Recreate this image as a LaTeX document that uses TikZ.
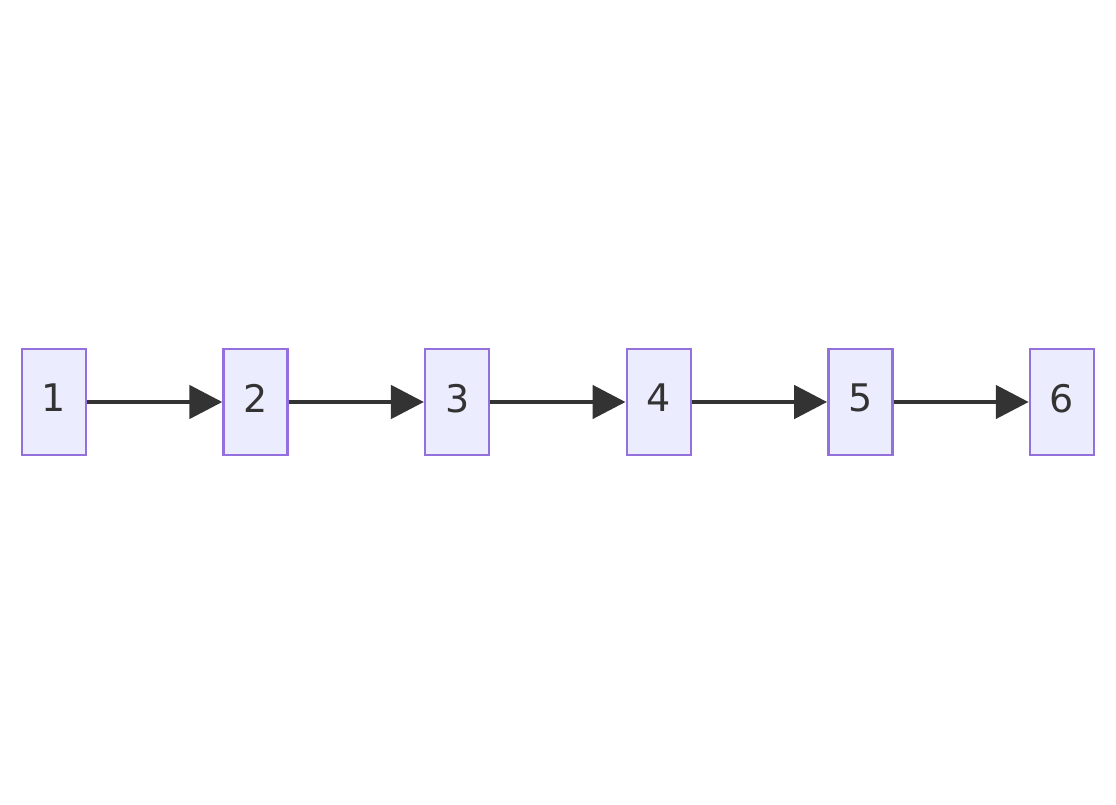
\documentclass[tikz,border=0pt]{standalone}
\usepackage{fontspec}
\setmainfont{DejaVu Sans}
\usetikzlibrary{arrows.meta}
\definecolor{boxfill}{HTML}{ECECFF}
\definecolor{boxline}{HTML}{9370DB}
\definecolor{ink}{HTML}{333333}
\begin{document}
\begin{tikzpicture}[x=1pt,y=-1pt,
  box/.style={draw=boxline,fill=boxfill,line width=2.5pt,minimum width=64pt,minimum height=106pt,inner sep=0pt,text=ink,font=\fontsize{38}{42}\selectfont},
  link/.style={draw=ink,line width=4.8pt,-{Triangle[length=33pt,width=33pt]}}]
\useasboundingbox (0,0) rectangle (1116,805);
\foreach \i in {1,...,6}{
  \node[box] (n\i) at ({54+201.6*(\i-1)},402) {\raisebox{8pt}{\i}};
}
\foreach \i/\j in {1/2,2/3,3/4,4/5,5/6}{
  \draw[link] (n\i) -- (n\j);
}
\end{tikzpicture}
\end{document}
